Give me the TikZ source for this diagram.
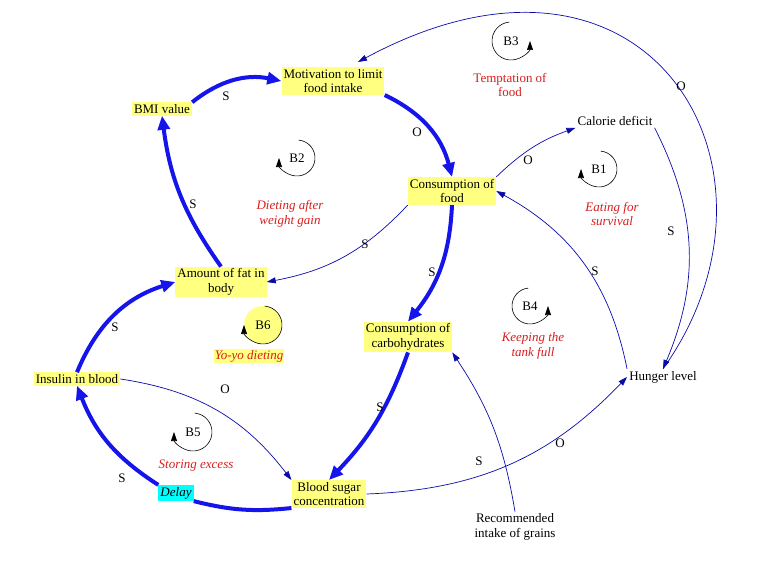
\documentclass[tikz,border=0pt]{standalone}
\usepackage{fontspec}
\setmainfont{Liberation Serif}
\usetikzlibrary{arrows.meta}
\definecolor{yel}{RGB}{255,255,128}
\definecolor{thk}{RGB}{20,20,235}
\definecolor{thn}{RGB}{10,10,170}
\definecolor{rd}{RGB}{215,30,30}
\definecolor{cy}{RGB}{0,255,255}
\begin{document}
\begin{tikzpicture}[x=1pt,y=-1pt,font=\rmfamily\fontsize{13}{14.5}\selectfont,
  var/.style={fill=yel,align=center,inner sep=2pt},
  plain/.style={align=center,inner sep=2pt},
  thick link/.style={draw=thk,line width=4pt,-{Triangle[length=14pt,width=12pt]}},
  thin link/.style={draw=thn,line width=0.7pt,-{Triangle[length=9pt,width=6pt]}},
  pol/.style={font=\rmfamily\fontsize{13}{14}\selectfont},
  loopname/.style={text=rd,align=center,font=\rmfamily\fontsize{13}{14.5}\selectfont\itshape},
  lp/.style={line width=0.6pt,-{Triangle[length=9pt,width=6pt]}}]
\useasboundingbox (0,0) rectangle (760,567);
\node[var] (mot) at (333,81) {Motivation to limit\\food intake};
\node[var] (bmi) at (162,109) {BMI value};
\node[var] (cf) at (452,191) {Consumption of\\food};
\node[plain] (cal) at (615,121) {Calorie deficit};
\node[var] (fat) at (221,282) {Amount of fat in\\body};
\node[var] (carb) at (408,337) {Consumption of\\carbohydrates};
\node[var] (ins) at (77,379) {Insulin in blood};
\node[plain] (hun) at (663,377) {Hunger level};
\node[var] (bs) at (329,494) {Blood sugar\\concentration};
\node[plain] (rec) at (515,527) {Recommended\\intake of grains};
\node[fill=cy,inner sep=2pt,font=\rmfamily\fontsize{13}{14}\selectfont\itshape] (del) at (176,493) {Delay};
\coordinate (motin) at (358,62);
% thick links
\draw[thick link] (bmi.north east) to[bend left=25] (mot.west);
\draw[thick link] (mot.south east) to[bend left=25] (cf.north);
\draw[thick link] (fat.north) to[bend left=14] (bmi.south);
\draw[thick link] (cf.south) to[bend left=18] (carb.north);
\draw[thick link] (carb.south) to[bend left=12] (bs.north);
\draw[draw=thk,line width=4pt] (bs.south west) to[bend left=10] (del.south east);
\draw[thick link] (del.north west) to[bend left=18] (ins.south);
\draw[thick link] (ins.north) to[bend left=25] (fat.west);
% thin links
\draw[thin link] (cf.north east) to[bend left=12] (cal.south west);
\draw[thin link] (cal.south east) to[bend left=25] (hun.north);
\draw[thin link] (hun.north west) to[bend right=25] (cf.east);
\draw[thin link] (hun.north) .. controls (805,170) and (650,-95) .. (motin);
\draw[thin link] (cf.south west) to[bend left=18] (fat.east);
\draw[thin link] (ins.east) to[bend left=22] (bs.north west);
\draw[thin link] (bs.east) to[bend right=22] (hun.west);
\draw[thin link] (rec.north) to[bend right=12] (carb.south east);
% polarities
\node[pol] at (226,96) {S};
\node[pol] at (417,132) {O};
\node[pol] at (193,204) {S};
\node[pol] at (432,272) {S};
\node[pol] at (380,407) {S};
\node[pol] at (122,478) {S};
\node[pol] at (115,327) {S};
\node[pol] at (528,160) {O};
\node[pol] at (671,231) {S};
\node[pol] at (595,271) {S};
\node[pol] at (681,86) {O};
\node[pol] at (365,244) {S};
\node[pol] at (225,389) {O};
\node[pol] at (560,443) {O};
\node[pol] at (479,461) {S};
% loop symbols
\node (b3) at (511,41) {B3};
\draw[lp] (b3) ++(-95:19) arc (-95:-360:19);
\node (b2) at (297,158) {B2};
\draw[lp] (b2) ++(-85:18) arc (-85:180:18);
\node (b1) at (599,169) {B1};
\draw[lp] (b1) ++(-85:18) arc (-85:180:18);
\node (b4) at (530,306) {B4};
\draw[lp] (b4) ++(-95:18) arc (-95:-360:18);
\fill[yel] (263,325) circle (19);
\node (b6) at (263,325) {B6};
\draw[lp] (b6) ++(-85:19) arc (-85:180:19);
\node (b5) at (193,432) {B5};
\draw[lp] (b5) ++(-85:19) arc (-85:180:19);
% loop names
\node[loopname,font=\rmfamily\fontsize{13}{14.5}\selectfont] (n3) at (510,85) {Temptation of\\food};
\node[loopname] (n2) at (290,214) {Dieting after\\weight gain};
\node[loopname] (n1) at (612,214) {Eating for\\survival};
\node[loopname] (n4) at (533,346) {Keeping the\\tank full};
\node[loopname,fill=yel,inner sep=1pt] (n6) at (249,356) {Yo-yo dieting};
\node[loopname] (n5) at (196,466) {Storing excess};
\end{tikzpicture}
\end{document}
